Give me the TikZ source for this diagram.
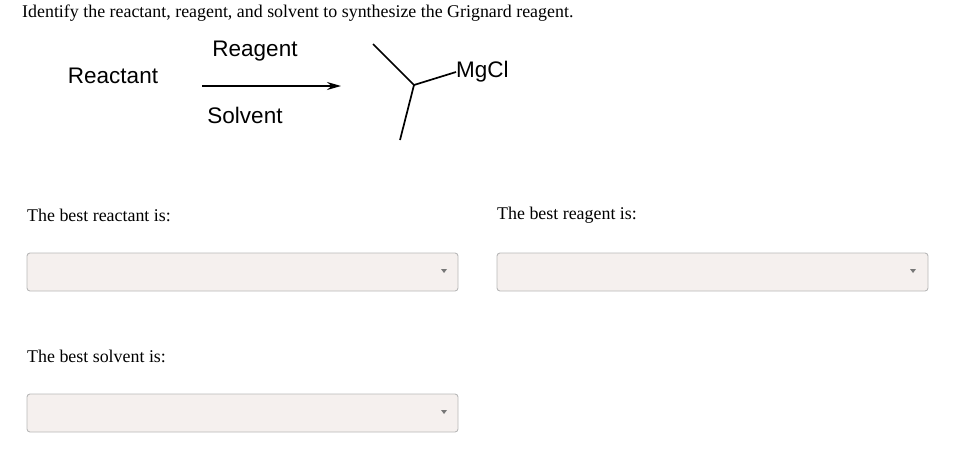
\documentclass[tikz,border=0pt]{standalone}
\usetikzlibrary{arrows.meta}
\usepackage{fontspec}
\setmainfont{Liberation Serif}
\newfontfamily\arialf{Liberation Sans}
\definecolor{boxfill}{HTML}{F5F0EE}
\definecolor{boxline}{HTML}{B8B8B8}
\definecolor{tri}{HTML}{777777}
\begin{document}
\begin{tikzpicture}[x=1pt,y=-1pt,
  serif/.style={anchor=west,inner sep=0,font=\fontsize{17.9}{20}\selectfont},
  chem/.style={inner sep=0,font=\arialf\fontsize{22.5}{26}\selectfont},
  dropbox/.style={draw=boxline,fill=boxfill,rounded corners=3pt,line width=0.9pt},
  bond/.style={line width=1.7pt}]
\useasboundingbox (0,0) rectangle (957,455);
\node[serif] (title) at (22,13) {Identify the reactant, reagent, and solvent to synthesize the Grignard reagent.};
\node[chem] (reactant) at (113,76) {Reactant};
\node[chem] (reagent) at (255,51) {Reagent};
\node[chem] (solvent) at (245,115) {Solvent};
\coordinate (a1) at (202,86);
\coordinate (a2) at (341,86);
\draw[line width=1.5pt,-{Stealth[length=14pt,width=8pt]}] (a1) -- (a2);
\coordinate (m1) at (373,44);
\coordinate (mc) at (414,85);
\coordinate (m3) at (400,140);
\node[chem,anchor=west] (mgcl) at (456,72) {MgCl};
\draw[bond] (m1) -- (mc) -- (m3);
\draw[bond] (mc) -- (mgcl.west);
\node[serif] (l1) at (27,215) {The best reactant is:};
\node[serif] (l2) at (497,215) {The best reagent is:};
\node[serif] (l3) at (27,356) {The best solvent is:};
\draw[dropbox] (27,253) rectangle (458,291);
\draw[dropbox] (497,253) rectangle (928,291);
\draw[dropbox] (27,394) rectangle (458,432);
\fill[tri] (441,269) -- (447,269) -- (444,273) -- cycle;
\fill[tri] (910,269) -- (916,269) -- (913,273) -- cycle;
\fill[tri] (441,410) -- (447,410) -- (444,414) -- cycle;
\end{tikzpicture}
\end{document}
